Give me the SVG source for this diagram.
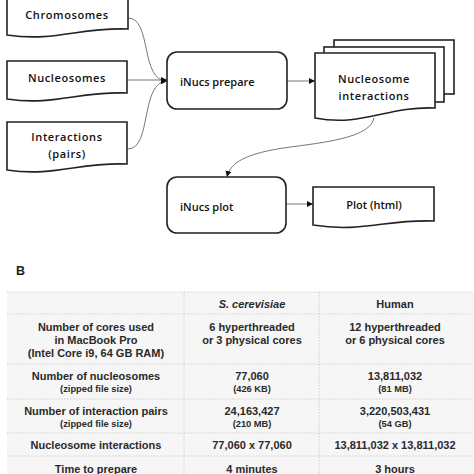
<svg xmlns="http://www.w3.org/2000/svg" width="474" height="474" viewBox="0 0 474 474">
<defs>
<marker id="ah" viewBox="0 0 10 10" refX="10" refY="5" markerWidth="6" markerHeight="6" orient="auto" markerUnits="userSpaceOnUse">
<path d="M0,0 L10,5 L0,10 z" fill="#111"/>
</marker>
<style>
.shape{fill:#fff;stroke:#222;stroke-width:1.6}
.conn{fill:none;stroke:#777;stroke-width:1}
.lbl{font-family:"Open Sans","DejaVu Sans",sans-serif;font-weight:600;font-size:11px;fill:#111}
.sp{letter-spacing:0.6px}
.tb{font-family:"Liberation Sans",Arial,sans-serif;font-weight:bold;font-size:11px;fill:#2a2a2a;text-anchor:middle}
.sm{font-size:9.3px}
.grid{stroke:#cfcfcf;stroke-width:1;stroke-dasharray:1.5,1.5;fill:none}
</style>
</defs>
<rect width="474" height="474" fill="#fff"/>

<g id="connectors">
<path class="conn" d="M128,18 C152,18 140,81 167,81" marker-end="url(#ah)"/>
<path class="conn" d="M128,80 L167,80" marker-end="url(#ah)"/>
<path class="conn" d="M128,149 C152,149 140,82 167,81" marker-end="url(#ah)"/>
<path class="conn" d="M287,81 L315,81" marker-end="url(#ah)"/>
<path class="conn" d="M374,118 C370,142 300,144 272,150 C242,156 230,164 227,177" marker-end="url(#ah)"/>
<path class="conn" d="M286,204 L313,204" marker-end="url(#ah)"/>
</g>

<g id="chromosomes">
<path class="shape" d="M7,-5 H128 V29 C80,27 56,42 7,35 Z"/>
<text class="lbl sp" x="67" y="19" text-anchor="middle">Chromosomes</text>
</g>
<g id="nucleosomes">
<path class="shape" d="M7,61 H127 V93 C79,91 55,106 7,99 Z"/>
<text class="lbl sp" x="67" y="82" text-anchor="middle">Nucleosomes</text>
</g>
<g id="interactions">
<path class="shape" d="M7,122 H127 V164 C79,162 55,177 7,170 Z"/>
<text class="lbl sp" x="67" y="141" text-anchor="middle">Interactions</text>
<text class="lbl sp" x="67" y="158" text-anchor="middle">(pairs)</text>
</g>
<g id="inucs-prepare">
<rect class="shape" x="167" y="52" width="120" height="57" rx="10"/>
<text class="lbl" x="180" y="86">iNucs prepare</text>
</g>
<g id="nucleosome-interactions">
<rect class="shape" x="334" y="40" width="120" height="54"/>
<rect class="shape" x="324" y="47" width="120" height="55"/>
<path class="shape" d="M315,53 H435 V108 C387,106 363,127 315,118 Z"/>
<text class="lbl sp" x="374" y="83" text-anchor="middle">Nucleosome</text>
<text class="lbl sp" x="374" y="100" text-anchor="middle">interactions</text>
</g>
<g id="inucs-plot">
<rect class="shape" x="167" y="177" width="119" height="56" rx="10"/>
<text class="lbl" x="180" y="211">iNucs plot</text>
</g>
<g id="plot-html">
<path class="shape" d="M313,187 H434 V221 C386,219 362,233 313,225 Z"/>
<text class="lbl" x="374" y="209" text-anchor="middle">Plot (html)</text>
</g>

<g id="table">
<text x="16" y="275" font-family="Liberation Sans,Arial,sans-serif" font-weight="bold" font-size="12.5" fill="#222">B</text>
<rect x="7" y="292" width="467" height="182" fill="#f6f6f6"/>
<path class="grid" d="M7,292 H472 M7,314 H472 M7,364 H472 M7,399 H472 M7,433 H472 M7,456 H472 M184,292 V474 M319,292 V474"/>
<text class="tb" x="252" y="308" font-style="italic">S. cerevisiae</text>
<text class="tb" x="395" y="308">Human</text>
<text class="tb" x="96" y="331">Number of cores used</text>
<text class="tb" x="96" y="344">in MacBook Pro</text>
<text class="tb" x="96" y="357">(Intel Core i9, 64 GB RAM)</text>
<text class="tb" x="252" y="331">6 hyperthreaded</text>
<text class="tb" x="252" y="344">or 3 physical cores</text>
<text class="tb" x="395" y="331">12 hyperthreaded</text>
<text class="tb" x="395" y="344">or 6 physical cores</text>
<text class="tb" x="96" y="380">Number of nucleosomes</text>
<text class="tb sm" x="96" y="391.5">(zipped file size)</text>
<text class="tb" x="252" y="380">77,060</text>
<text class="tb sm" x="252" y="391.5">(426 KB)</text>
<text class="tb" x="395" y="380">13,811,032</text>
<text class="tb sm" x="395" y="391.5">(81 MB)</text>
<text class="tb" x="96" y="415">Number of interaction pairs</text>
<text class="tb sm" x="96" y="426.5">(zipped file size)</text>
<text class="tb" x="252" y="415">24,163,427</text>
<text class="tb sm" x="252" y="426.5">(210 MB)</text>
<text class="tb" x="395" y="415">3,220,503,431</text>
<text class="tb sm" x="395" y="426.5">(54 GB)</text>
<text class="tb" x="96" y="449">Nucleosome interactions</text>
<text class="tb" x="252" y="449">77,060 x 77,060</text>
<text class="tb" x="395" y="449">13,811,032 x 13,811,032</text>
<text class="tb" x="96" y="473">Time to prepare</text>
<text class="tb" x="252" y="473">4 minutes</text>
<text class="tb" x="395" y="473">3 hours</text>
</g>
</svg>
